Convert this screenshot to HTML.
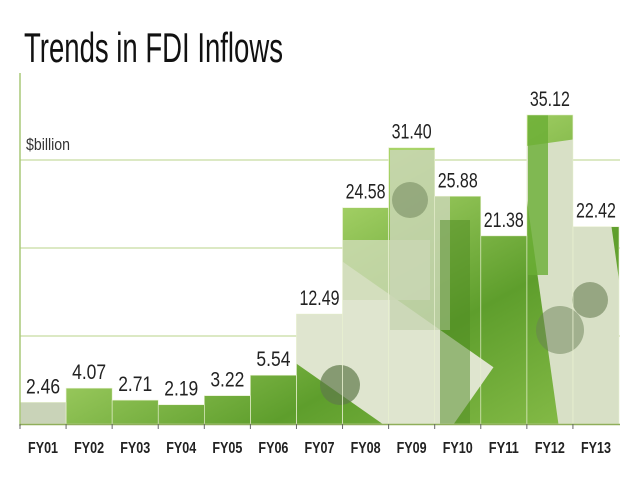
<!DOCTYPE html>
<html><head><meta charset="utf-8"><style>
html,body{margin:0;padding:0;background:#fff;}
svg{display:block;font-family:"Liberation Sans",sans-serif;}
</style></head><body>
<svg width="638" height="478" viewBox="0 0 638 478">
<defs>
<linearGradient id="grass" x1="0" y1="0" x2="1" y2="1">
<stop offset="0" stop-color="#7fbf3a"/><stop offset="0.4" stop-color="#a9d46a"/><stop offset="0.7" stop-color="#5e9e2c"/><stop offset="1" stop-color="#8cc04c"/>
</linearGradient>
<clipPath id="barsClip"></clipPath>
</defs>
<text x="24" y="62" font-size="42" textLength="259" lengthAdjust="spacingAndGlyphs" fill="#111">Trends in FDI Inflows</text>
<g id="grid"></g>
<text x="26" y="150" font-size="17" textLength="44" lengthAdjust="spacingAndGlyphs" fill="#333">$billion</text>
<g clip-path="url(#barsClip)">
<rect x="20" y="100" width="600" height="330" fill="url(#grass)"/>
<rect x="20" y="395" width="46" height="30" fill="#c9d3b8"/>
<rect x="280" y="300" width="200" height="110" fill="#dfe5cf" transform="rotate(35 380 355)"/>
<rect x="340" y="240" width="90" height="60" fill="#cfdcb8" opacity="0.8"/>
<rect x="390" y="150" width="60" height="180" fill="#c9d6b4" opacity="0.85"/>
<rect x="540" y="140" width="80" height="300" fill="#d8e0c6" transform="rotate(-8 580 290)"/>
<rect x="440" y="220" width="30" height="210" fill="#4d8a22" opacity="0.5"/>
<rect x="528" y="115" width="20" height="160" fill="#6aae34" opacity="0.8"/>
<circle cx="340" cy="385" r="20" fill="#5f7a4a" opacity="0.7"/>
<circle cx="590" cy="300" r="18" fill="#6a7f55" opacity="0.6"/>
<circle cx="410" cy="200" r="18" fill="#6a7f55" opacity="0.5"/>
<circle cx="560" cy="330" r="24" fill="#6a7f55" opacity="0.5"/>
</g>
<g id="bars"></g>
<line x1="20" y1="73" x2="20" y2="426" stroke="#a9c878" stroke-width="1.5"/>
<line x1="20" y1="424.5" x2="620" y2="424.5" stroke="#8fae5a" stroke-width="1.5"/>
<g id="labels"></g>
</svg>
<script>
const categories = ["FY01","FY02","FY03","FY04","FY05","FY06","FY07","FY08","FY09","FY10","FY11","FY12","FY13"];
const values = [2.46,4.07,2.71,2.19,3.22,5.54,12.49,24.58,31.40,25.88,21.38,35.12,22.42];
const valueLabels = ["2.46","4.07","2.71","2.19","3.22","5.54","12.49","24.58","31.40","25.88","21.38","35.12","22.42"];
const gridValues = [10,20,30];
const NS="http://www.w3.org/2000/svg";
const x0=20,x1=619,base=424,ppu=8.8;
const bw=(x1-x0)/categories.length;
const xs=i=>x0+i*bw;
const ys=v=>base-v*ppu;
function mk(t,a){const e=document.createElementNS(NS,t);for(const k in a)e.setAttribute(k,a[k]);return e;}
const grid=document.getElementById('grid');
gridValues.forEach(g=>{const l=mk('line',{x1:20,x2:620,y1:ys(g),y2:ys(g),stroke:'#c8dca0','stroke-width':1.2});


grid.appendChild(l);});
const clip=document.getElementById('barsClip'),bars=document.getElementById('bars'),labels=document.getElementById('labels');
values.forEach((v,i)=>{
 clip.appendChild(mk('rect',{x:xs(i),y:ys(v),width:bw,height:base-ys(v)}));
 const r=mk('rect',{x:xs(i),y:ys(v),width:bw,height:base-ys(v),fill:'none',stroke:'#e8f0d0','stroke-width':0.6});
 
 
 bars.appendChild(r);
 const t=mk('text',{x:xs(i)+bw/2,y:ys(v)-9,'font-size':21,'text-anchor':'middle',fill:'#222',textLength:v>=10?40:34,lengthAdjust:'spacingAndGlyphs'});
 t.textContent=valueLabels[i];
 
 
 labels.appendChild(t);
 const c=mk('text',{x:xs(i)+bw/2,y:453,'font-size':16,'font-weight':'bold','text-anchor':'middle',fill:'#222',textLength:30,lengthAdjust:'spacingAndGlyphs'});
 c.textContent=categories[i];
 
 
 labels.appendChild(c);
 const tk=mk('line',{x1:xs(i),x2:xs(i),y1:424,y2:429,stroke:'#666','stroke-width':1});
 
 
 labels.appendChild(tk);
});
</script>
</body></html>
